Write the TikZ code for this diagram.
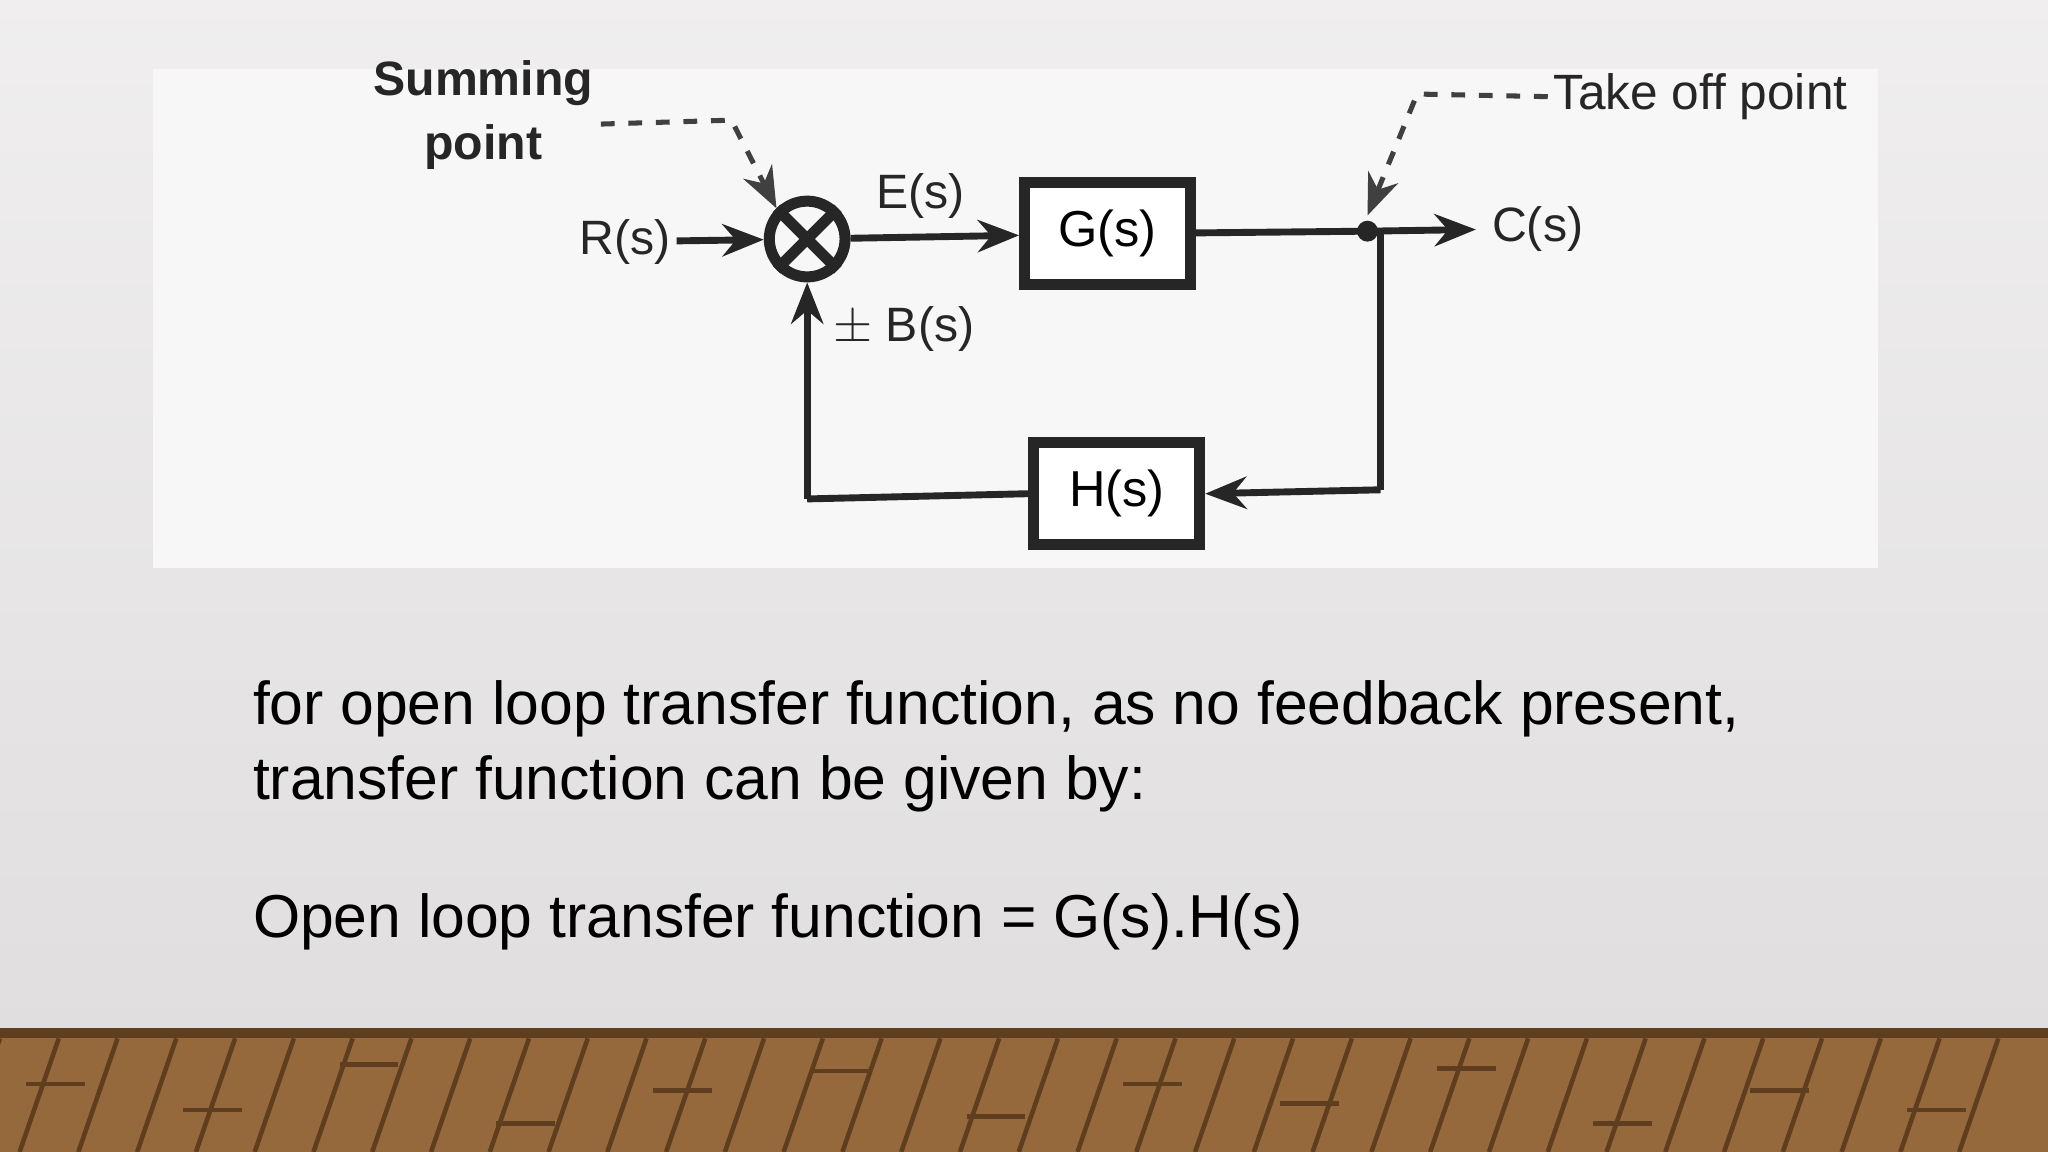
\documentclass[tikz,border=0pt]{standalone}
\usepackage{fontspec}
\setmainfont{Liberation Sans}
\usetikzlibrary{arrows.meta}
\definecolor{wall}{RGB}{236,234,234}
\definecolor{wood}{RGB}{150,105,60}
\definecolor{wooddark}{RGB}{95,62,32}
\begin{document}
\begin{tikzpicture}[x=0.01cm,y=-0.01cm,
  line/.style={line width=1.5pt,black!85},
  arr/.style={line,-{Stealth[length=9pt,width=7pt]}},
  blk/.style={draw=black!85,line width=2.4pt,fill=white,minimum width=127*0.01cm,minimum height=78*0.01cm,font=\fontsize{11}{12}\selectfont},
  lbl/.style={font=\fontsize{10.5}{12}\selectfont,text=black!85},
  body/.style={font=\fontsize{13.2}{15}\selectfont,anchor=base west,inner sep=0}]
\useasboundingbox (0,0) rectangle (1568,882);
\shade[top color=wall!80!white,bottom color=wall!95!black] (0,0) rectangle (1568,787);
% floor
\fill[wood] (0,787) rectangle (1568,882);
\fill[wooddark] (0,787) rectangle (1568,795);
\foreach \x in {0,45,...,1568} {\draw[wooddark,line width=1pt] (\x,795) -- (\x-30,882);}
\foreach \x/\y in {20/830,140/850,260/815,380/860,500/835,620/820,740/855,860/830,980/845,1100/818,1220/860,1340/835,1460/850} {\draw[wooddark,line width=1pt] (\x,\y) -- (\x+45,\y);}
% panel
\fill[white!97!black] (117,53) rectangle (1438,435);
% nodes
\node[blk] (G) at (848,179) {G(s)};
\node[blk] (H) at (855,378) {H(s)};
\node[draw=black!85,line width=2.4pt,circle,minimum size=58*0.01cm,inner sep=0] (S) at (618,183) {};
\draw[line width=2.4pt,black!85] (S.45) -- (S.225) (S.135) -- (S.315);
\node[lbl,anchor=east,inner sep=1pt] (R) at (518,185) {R(s)};
\node[lbl] at (705,150) {E(s)};
\node[lbl] at (692,252) {$\pm$ B(s)};
\node[lbl,anchor=west] (C) at (1130,175) {C(s)};
\node[lbl,align=center,font=\bfseries\fontsize{10.5}{14}\selectfont] at (370,88) {Summing\\point};
\node[lbl,anchor=west,inner sep=1pt,font=\fontsize{10.8}{12}\selectfont] (T) at (1185,74) {Take off point};
\coordinate (tp) at (1047,177);
\fill[black!85] (tp) circle (8);
\coordinate (cr) at (1057,177);
\coordinate (hr) at (1057,375);
\coordinate (bl) at (618,382);
% connectors
\draw[arr] (R) -- (S);
\draw[arr] (S) -- (G);
\draw[line] (G) -- (tp);
\draw[arr] (tp) -- (C);
\draw[line] (cr) -- (hr);
\draw[arr] (hr) -- (H.east);
\draw[line] (H.west) -- (bl);
\draw[arr] (bl) -- (S.south);
\draw[dashed,line width=1.1pt,black!75,-{Stealth[length=9pt,width=7pt]}] (460,95) -- (560,92) -- (S.north west);
\draw[dashed,line width=1.1pt,black!75,-{Stealth[length=9pt,width=7pt]}] (T.west) -- (1085,72) -- (1047,165);
% body text
\node[body] at (193,555) {for open loop transfer function, as no feedback present,};
\node[body] at (193,612) {transfer function can be given by:};
\node[body] at (193,718) {Open loop transfer function = G(s).H(s)};
\end{tikzpicture}
\end{document}
